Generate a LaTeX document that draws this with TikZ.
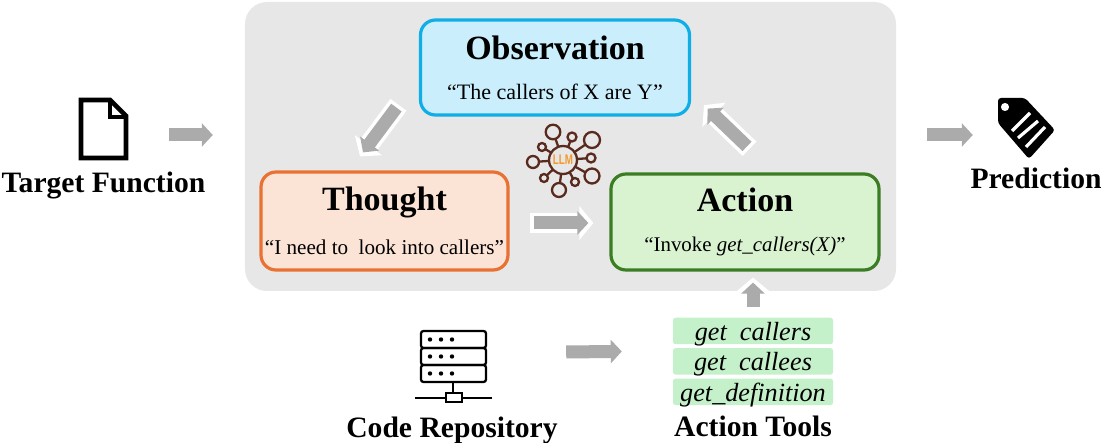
\documentclass[tikz,border=0pt]{standalone}
\usepackage{fontspec}
\setmainfont{Liberation Serif}
\setsansfont{Liberation Sans}
\usetikzlibrary{arrows.meta, positioning, calc}
\definecolor{panelgray}{HTML}{E7E7E7}
\definecolor{flowgray}{HTML}{ABABAB}
\definecolor{obsfill}{HTML}{CAEEFB}
\definecolor{obsline}{HTML}{0FAEE6}
\definecolor{thofill}{HTML}{FBE3D6}
\definecolor{tholine}{HTML}{E97132}
\definecolor{actfill}{HTML}{D9F2D0}
\definecolor{actline}{HTML}{3B7D23}
\definecolor{toolfill}{HTML}{C4F0CA}
\definecolor{llmline}{HTML}{5A2A1E}
\definecolor{llmtext}{HTML}{F39A2E}
\newcommand{\titletext}{\fontsize{34bp}{38bp}\selectfont\bfseries}
\newcommand{\quotetext}[1]{\fontsize{#1}{26bp}\selectfont}
\newcommand{\captext}{\fontsize{29.6bp}{33bp}\selectfont\bfseries}
\newcommand{\tooltext}{\fontsize{26.2bp}{28bp}\selectfont\itshape}

\begin{document}
\begin{tikzpicture}[
    x=1bp, y=-1bp,
    panel/.style={rectangle, fill=panelgray, rounded corners=22bp, minimum width=651bp, minimum height=289bp, inner sep=0pt},
    stage/.style={rectangle, rounded corners=15bp, line width=3.2bp, align=center, inner sep=0pt},
    tool/.style={rectangle, fill=toolfill, rounded corners=2.5bp, minimum width=160bp, minimum height=26.5bp, inner sep=0pt, text height=21bp, text depth=2bp, font=\tooltext},
    caption/.style={inner sep=0pt, font=\captext},
    icon/.style={inner sep=0pt, minimum width=#1, minimum height=#1},
    flow/.style={draw=flowgray, line width=13bp, -{Triangle[length=11bp,width=23bp]}},
    halo/.style={flow, preaction={draw=white, line width=20bp, -{Triangle[length=14bp,width=33bp]}, shorten >=-5bp, shorten <=-3.5bp}}
]
\useasboundingbox (0,0) rectangle (1105,443);

% Panel and stages
\node[panel] (loop) at (570.5,146.5) {};
\node[stage, draw=obsline, fill=obsfill, minimum width=269bp, minimum height=95bp] (obs) at (555,67.5) {\titletext Observation\\[23bp]\quotetext{22bp}“The callers of X are Y”};
\node[stage, draw=tholine, fill=thofill, minimum width=247bp, minimum height=98bp] (thought) at (384.5,221) {\titletext Thought\\[21bp]\quotetext{21.1bp}“I need to\ \ look into callers”};
\node[stage, draw=actline, fill=actfill, minimum width=268bp, minimum height=96bp] (action) at (745,222) {\titletext Action\\[25bp]\quotetext{20.9bp}“Invoke \textit{get\_callers(X)}”};

% Tools
\node[tool] (callers) at (753,331) {get\phantom{\_}callers};
\node[tool, below=3.5bp of callers] (callees) {get\phantom{\_}callees};
\node[tool, below=3.5bp of callees] (definition) {get\_definition};

% Captions
\node[caption] (targetcap) at (103.5,186) {Target Function};
\node[caption] (predcap) at (1036,178) {Prediction};
\node[caption] (repocap) at (452,430) {Code Repository};
\node[caption] (toolcap) at (753,426) {Action Tools};

% Icons
\node[icon=48bp, minimum height=62bp] (fileicon) at (103.5,129) {};
\draw[line width=4.6bp, line join=miter] (81,100) -- (110,100) -- (126,116) -- (126,158) -- (81,158) -- cycle;
\draw[line width=3.6bp, line join=miter] (110,100) -- (110,117) -- (126,117);

\node[icon=60bp] (tagicon) at (1026,127) {};
\fill[even odd rule, rounded corners=3bp] (998,123) -- (998,98) -- (1025,98) -- (1055,130) -- (1029,159) -- cycle
    (1005,107) circle[radius=4.2bp];
\draw[white, line width=3.2bp] (1012,131) -- (1030,113) (1018,138) -- (1038,121) (1026,147) -- (1045,127);

\node[icon=72bp] (repoicon) at (452,375) {};
\foreach \y in {331,348,365} {
  \draw[line width=2.3bp, rounded corners=2.5bp] (421,\y) rectangle (486,\y+17);
  \foreach \x in {430,441,452} \fill (\x,\y+8.5) circle[radius=2.2bp];
}
\draw[line width=2bp] (453,382) -- (453,393) (415,398) -- (446,398) (462,398) -- (492,398);
\draw[line width=2bp] (446,393.5) rectangle (462,402);

% LLM network
\node[circle, minimum size=28bp, inner sep=0pt] (llm) at (563,160) {};
\foreach \x/\y/\r in {553/132/7.3, 572/137/4.5, 592/140/8, 591/158/4.5, 592/176/7.5, 575/182/4, 559/190/7, 544/178/4, 533/162/6, 542/147/4} {
  \draw[llmline, line width=2.3bp] (\x,\y) circle[radius=\r bp];
  \draw[llmline, line width=2.3bp] (llm) -- ($(\x,\y)!\r bp!(llm)$);
}
% hub above spokes
\node[circle, draw=llmline, fill=panelgray, line width=2.3bp, minimum size=28bp, inner sep=0pt, text=llmtext, font=\fontsize{14bp}{15bp}\selectfont\sffamily\bfseries] at (llm) {\scalebox{.7}[1]{LLM}};

% Flow arrows
\draw[flow] ([shift={(41.5,6)}]fileicon.east) -- ([shift={(-32,-11.5)}]loop.west);
\draw[flow] ([shift={(31,-11.5)}]loop.east) -- ([shift={(-23,8)}]tagicon.west);
\draw[halo] ([shift={(-22.5,-9)}]obs.south west) -- ([shift={(-21.5,-18)}]thought.north);
\draw[halo] ([shift={(2,-26)}]action.north) -- ([shift={(16.5,-8)}]obs.south east);
\draw[halo] ([shift={(24,2)}]thought.east) -- ([shift={(-21,1)}]action.west);
\draw[halo] ([shift={(0,-11)}]callers.north) -- ([shift={(8,11)}]action.south);
\draw[flow] ([shift={(78,-23)}]repoicon.east) -- ([shift={(-51,-10)}]callees.west);

\end{tikzpicture}
\end{document}
